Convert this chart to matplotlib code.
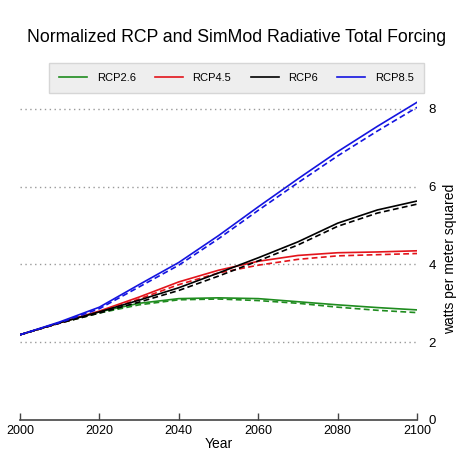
"""
Normalized RCP vs SimMod radiative total forcing, 2000-2100.
Solid lines: RCP scenarios. Dashed lines: SimMod emulation.
"""

import matplotlib
matplotlib.use("Agg")
import matplotlib.pyplot as plt

plt.rcParams['font.family'] = ['Liberation Sans', 'DejaVu Sans']

# ----------------------------
# Data
# ----------------------------
years = [2000, 2010, 2020, 2030, 2040, 2050, 2060, 2070, 2080, 2090, 2100]

scenarios = ['RCP2.6', 'RCP4.5', 'RCP6', 'RCP8.5']
colors = ['#1f8c1f', '#e3141b', '#000000', '#1414e0']

rcp26 = [2.19, 2.50, 2.78, 3.00, 3.12, 3.14, 3.12, 3.04, 2.96, 2.89, 2.83]
rcp45 = [2.19, 2.50, 2.80, 3.16, 3.55, 3.85, 4.08, 4.23, 4.30, 4.32, 4.35]
rcp6 = [2.19, 2.50, 2.78, 3.08, 3.40, 3.78, 4.17, 4.58, 5.06, 5.40, 5.63]
rcp85 = [2.19, 2.52, 2.90, 3.48, 4.05, 4.74, 5.48, 6.20, 6.90, 7.55, 8.17]

sim26 = [2.19, 2.49, 2.75, 2.96, 3.09, 3.11, 3.07, 3.00, 2.90, 2.82, 2.76]
sim45 = [2.19, 2.49, 2.77, 3.11, 3.48, 3.78, 3.98, 4.13, 4.22, 4.25, 4.28]
sim6 = [2.19, 2.49, 2.75, 3.03, 3.33, 3.70, 4.09, 4.50, 4.98, 5.32, 5.55]
sim85 = [2.19, 2.50, 2.86, 3.42, 3.98, 4.66, 5.39, 6.10, 6.79, 7.43, 8.04]

rcp_series = [rcp26, rcp45, rcp6, rcp85]
sim_series = [sim26, sim45, sim6, sim85]

yticks = [0, 2, 4, 6, 8]
xticks = [2000, 2020, 2040, 2060, 2080, 2100]

# ----------------------------
# Figure
# ----------------------------
fig = plt.figure(figsize=(4.74, 4.74), dpi=100)
ax = fig.add_axes([0.042, 0.114, 0.838, 0.681])

handles = []
for name, col, rcp, sim in zip(scenarios, colors, rcp_series, sim_series):
    h, = ax.plot(years, rcp, color=col, lw=1.2, label=name)
    ax.plot(years, sim, color=col, lw=1.2, ls=(0, (3.5, 2)))
    handles.append(h)

ax.set_xlim(2000, 2100)
ax.set_ylim(0, 8.3)
ax.set_xticks(xticks)
ax.set_yticks(yticks)

# y axis on the right, no tick marks
ax.yaxis.tick_right()
ax.yaxis.set_label_position('right')
ax.tick_params(axis='y', length=0, pad=8, labelsize=9.5)
ax.tick_params(axis='x', direction='in', length=5, width=1, color='#444444',
               labelsize=9, pad=3.5)

for side in ['top', 'left', 'right']:
    ax.spines[side].set_visible(False)
ax.spines['bottom'].set_color('#444444')
ax.spines['bottom'].set_linewidth(1.2)

# dotted horizontal grid lines
ax.grid(axis='y', color='#999999', ls=(0, (1, 2.5)), lw=1.0)
ax.grid(axis='x', visible=False)
ax.yaxis.get_gridlines()[0].set_visible(False)

ax.set_xlabel('Year', fontsize=10, labelpad=0)
ax.set_ylabel('watts per meter squared', fontsize=10, labelpad=5)

fig.suptitle('Normalized RCP and SimMod Radiative Total Forcing',
             fontsize=12.7, x=0.5, y=0.92, va='center')

leg = fig.legend(handles=handles, loc='center', ncol=4,
                 bbox_to_anchor=(0.499, 0.836), fontsize=8,
                 handlelength=2.5, handletextpad=0.87, columnspacing=1.75,
                 frameon=True, fancybox=False, borderpad=0.9)
leg.get_frame().set_facecolor('#eeeeee')
leg.get_frame().set_edgecolor('#d6d6d6')
leg.get_frame().set_alpha(1)

fig.savefig('out.png', dpi=100)
